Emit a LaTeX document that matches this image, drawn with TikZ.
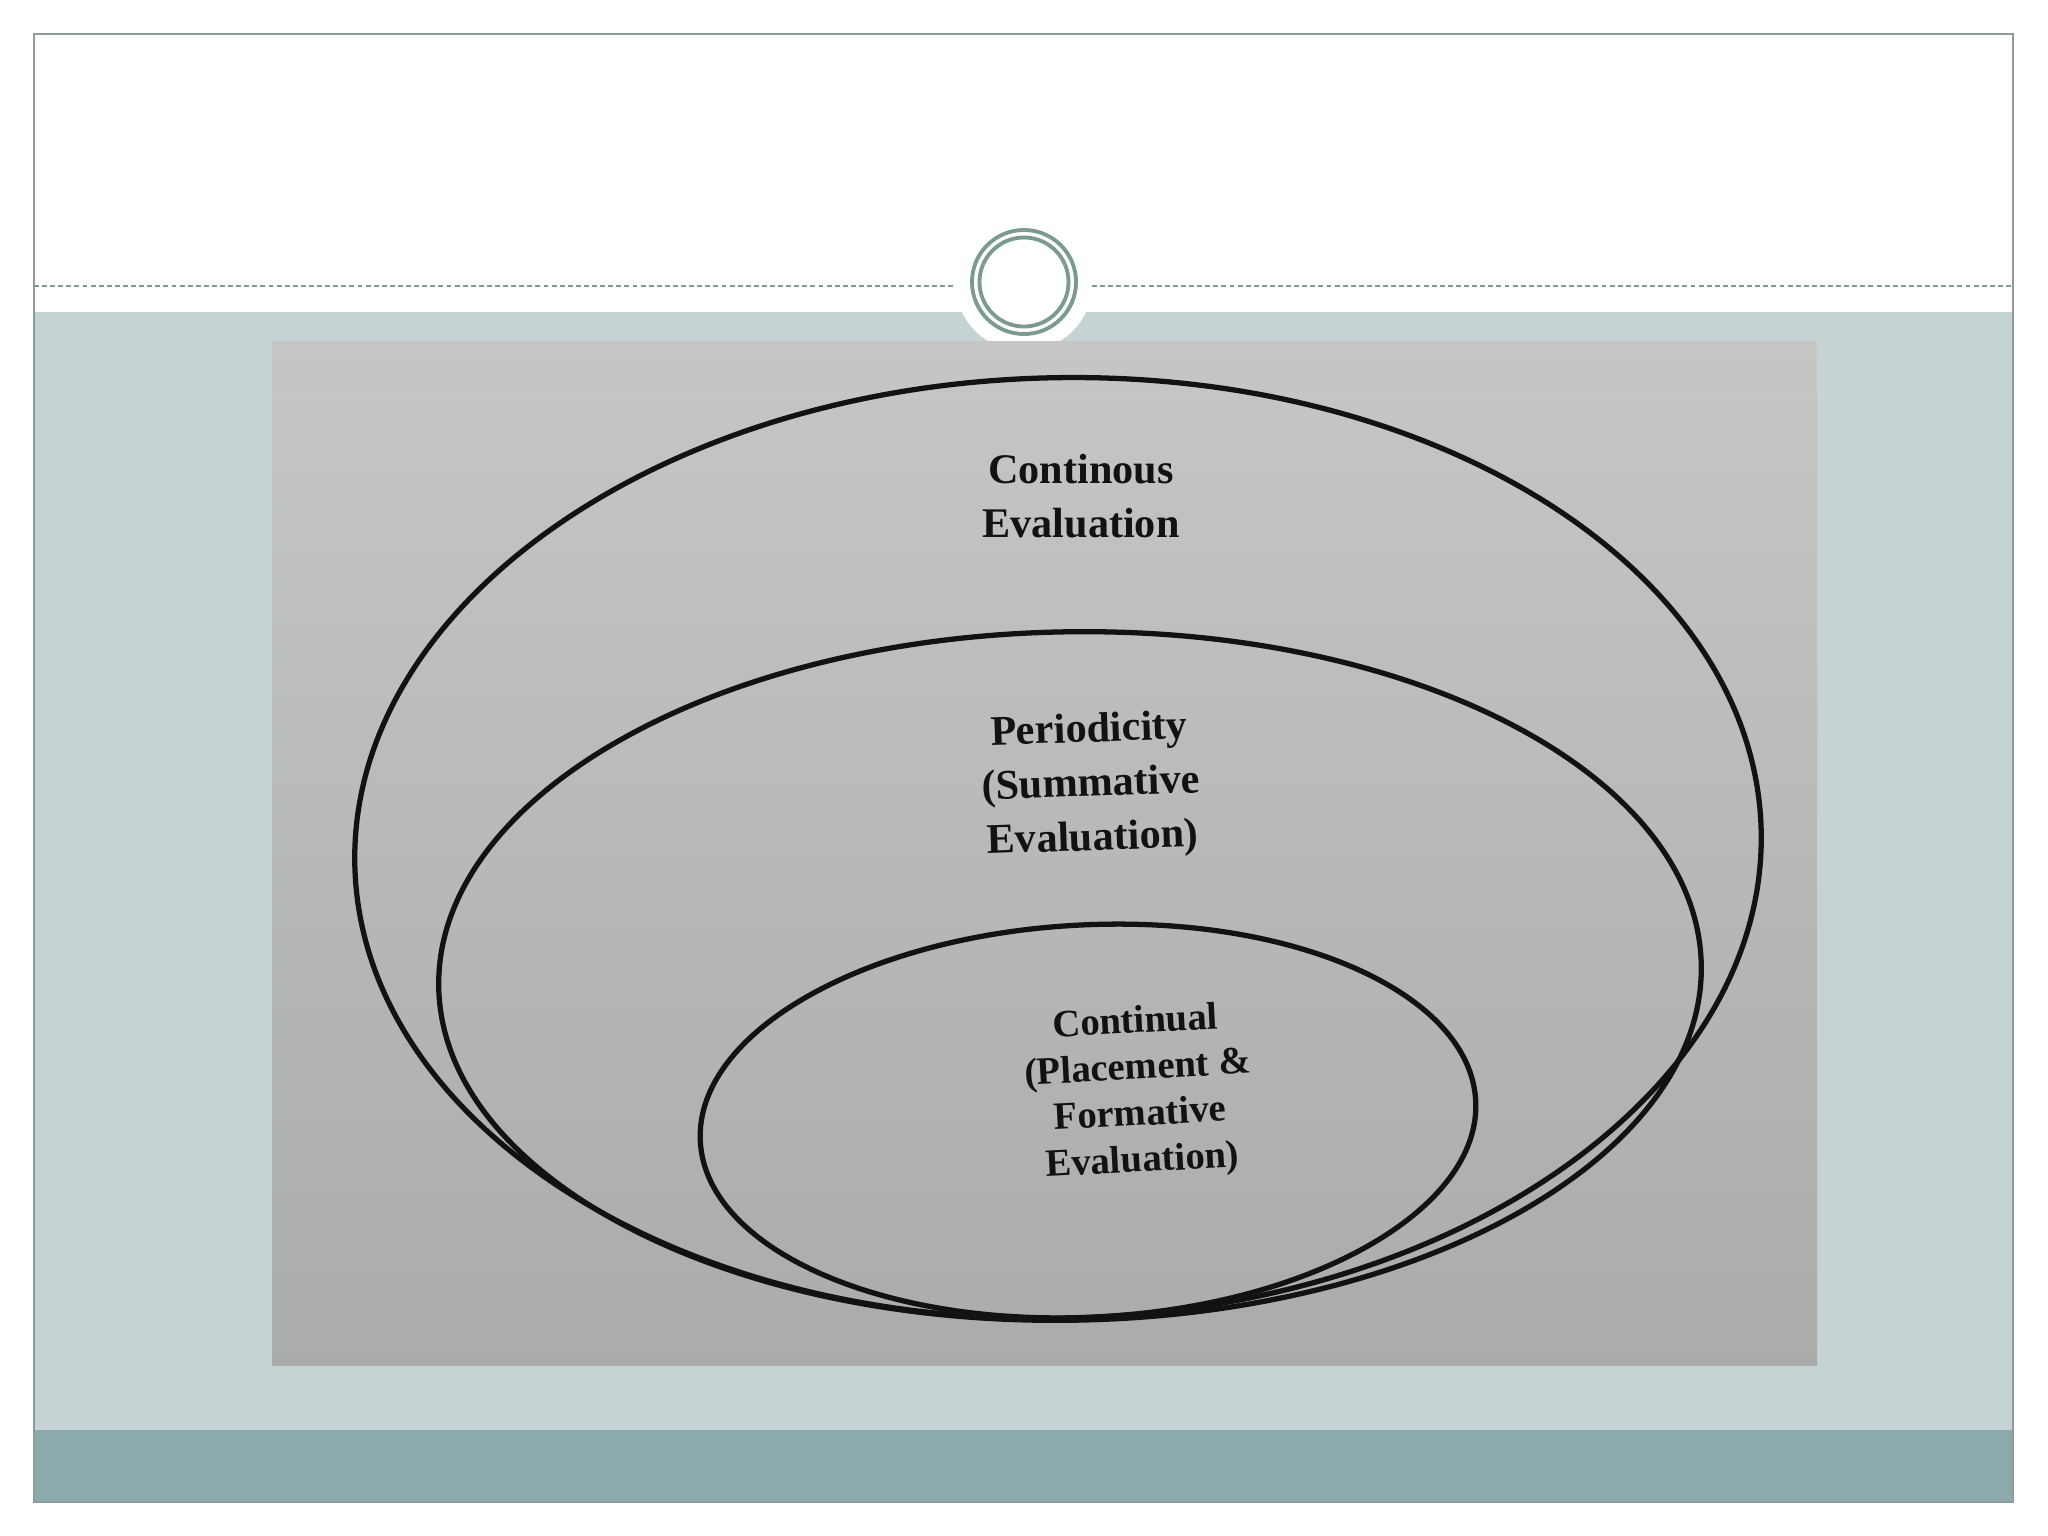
\documentclass[tikz,border=0pt]{standalone}
\usepackage{fontspec}
\setmainfont{Liberation Serif}
\usetikzlibrary{positioning}
\definecolor{SlideFrame}{RGB}{140,156,154}
\definecolor{SlideRing}{RGB}{124,154,148}
\definecolor{SlideBand}{RGB}{197,211,213}
\definecolor{SlideFoot}{RGB}{140,170,172}
\definecolor{PaperTop}{RGB}{198,199,197}
\definecolor{PaperBot}{RGB}{170,172,170}
\definecolor{InkDark}{RGB}{18,18,18}

\tikzset{
  evaltext/.style={align=center, text=InkDark, font=\bfseries\fontsize{12}{15.4}\selectfont},
  evalring/.style={line width=1.5pt, InkDark},
  slidering/.style={circle, draw=SlideRing, line width=1.1pt, inner sep=0pt}
}

\begin{document}
\begin{tikzpicture}[x=0.01cm,y=-0.01cm]
  \useasboundingbox (0,0) rectangle (2048,1536);
  \fill[white] (0,0) rectangle (2048,1536);
  % slide background
  \fill[SlideBand] (34,312) rectangle (2013,1430);
  \fill[SlideFoot] (34,1430) rectangle (2013,1502);
  \draw[SlideFrame, line width=0.6pt] (34,34) rectangle (2013,1502);
  \fill[white] (1024,282) circle (0.69cm);
  \node[slidering, minimum size=1.04cm] (ringout) at (1024,282) {};
  \node[slidering, minimum size=0.89cm] (ringin) at (ringout.center) {};
  \coordinate (dashl) at (34,286);
  \coordinate (dashr) at (2013,286);
  \draw[SlideRing, line width=0.6pt, dash pattern=on 1.4pt off 0.9pt] (dashl) -- (955,286);
  \draw[SlideRing, line width=0.6pt, dash pattern=on 1.4pt off 0.9pt] (1092,286) -- (dashr);
  % the photographed page
  \shade[top color=PaperTop, bottom color=PaperBot] (272,341) rectangle (1817,1365);
  \draw[evalring, rotate around={1.5:(1058,848)}] (1058,848) ellipse [x radius=7.03cm, y radius=4.70cm];
  \draw[evalring, rotate around={1:(1070,976)}] (1070,976) ellipse [x radius=6.31cm, y radius=3.44cm];
  \draw[evalring, rotate around={3:(1088,1121)}] (1088,1121) ellipse [x radius=3.88cm, y radius=1.96cm];
  \node[evaltext] (outer) at (1081,496) {Continous\\Evaluation};
  \node[evaltext, rotate=2] (middle) at (1091,786) {Periodicity\\(Summative\\Evaluation)};
  \node[evaltext, rotate=3, font=\bfseries\fontsize{11}{13.2}\selectfont] (inner) at (1139,1093) {Continual\\(Placement \&\\Formative\\Evaluation)};
\end{tikzpicture}
\end{document}
